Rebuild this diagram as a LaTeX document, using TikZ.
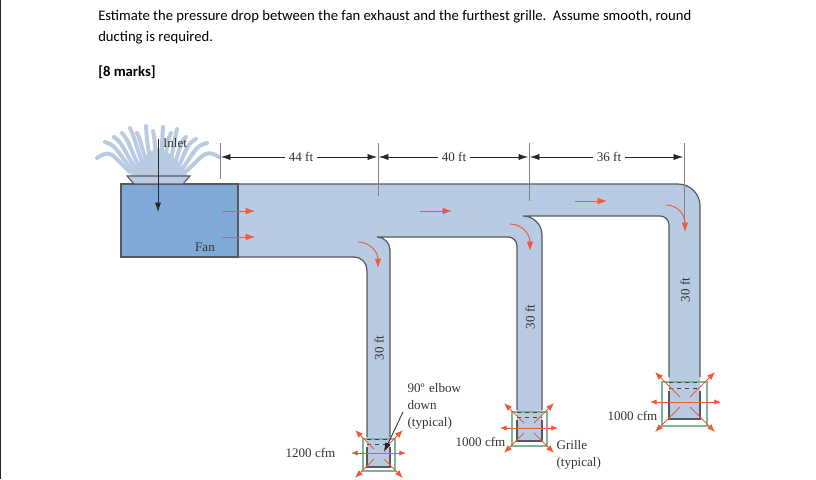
\documentclass[tikz,border=0pt]{standalone}
\usepackage{fontspec}
\setmainfont{Liberation Serif}
\newfontfamily\qfont{Carlito}
\usetikzlibrary{arrows.meta,positioning}
\definecolor{ductblue}{HTML}{B8CBE2}
\definecolor{fanblue}{HTML}{80A9D8}
\definecolor{flowred}{HTML}{EE5A36}
\definecolor{grillgreen}{HTML}{7FB594}
\definecolor{wallgray}{HTML}{55585E}
\begin{document}
\begin{tikzpicture}[x=0.75pt,y=-0.75pt,font=\fontsize{9.8}{12.75}\selectfont,
wall/.style={draw=wallgray,line width=0.9pt},
flow/.style={draw=flowred,line width=0.7pt,-{Latex[length=7pt,width=5pt]}},
vent/.style={draw=flowred,line width=0.6pt,-{Latex[length=6pt,width=4.5pt]}},
ventb/.style={vent,{Latex[length=5pt,width=4pt]}-{Latex[length=5pt,width=4pt]}},
dim/.style={draw=black!85,line width=0.4pt,-{Latex[length=7pt,width=4.5pt]}},
ext/.style={draw=gray,line width=0.5pt},
grill/.style={draw=grillgreen,line width=0.9pt},
wisp/.style={draw=ductblue,line width=3pt,line cap=round},
label/.style={inner sep=1pt,align=left,text=black!80},
qtext/.style={font=\qfont\fontsize{11}{14}\selectfont,anchor=west,inner sep=0pt}]
\useasboundingbox (0,0) rectangle (816,479);
% question
\node[qtext] (q1) at (98,17) {Estimate the pressure drop between the fan exhaust and the furthest grille.\ \ Assume smooth, round};
\node[qtext] (q2) at (98,38) {ducting is required.};
\node[qtext] (q3) at (98,72) {\bfseries [8 marks]};
% page edge
\draw[black!85,line width=1.2pt] (0.6,0) -- (0.6,479);
% inlet wisps
\fill[ductblue] (130,176) .. controls (140,160) and (150,150) .. (158,148) .. controls (168,150) and (178,160) .. (188,176) -- cycle;
\foreach \xa/\xc/\yc/\xb/\yb in {130/112/148/97/158,134/118/146/105/142,138/124/144/114/137,142/130/142/122/133,146/136/140/130/128,150/141/140/137/133,154/147/140/146/126,157/155/140/153/131,161/162/140/163/127,164/167/140/171/133,168/174/140/177/129,172/180/142/186/137,176/186/144/196/139,180/194/146/207/143,185/204/148/219/157}
  \draw[wisp] (\xa,172) .. controls (\xc,\yc+8) and (\xc,\yc) .. (\xb,\yb);
% duct
\fill[ductblue] (238,184) -- (678,184) arc[start angle=-90,end angle=0,radius=22] -- (700,419) -- (669,419) -- (669,225)
  arc[start angle=0,end angle=-90,radius=9] -- (523,216) arc[start angle=-90,end angle=0,radius=19] -- (542,441) -- (517,441) -- (517,246)
  arc[start angle=0,end angle=-90,radius=9] -- (377,237) arc[start angle=-90,end angle=0,radius=13] -- (390,467) -- (367,467) -- (367,270)
  arc[start angle=0,end angle=-90,radius=13] -- (238,257) -- cycle;
\draw[wall] (238,184) -- (678,184) arc[start angle=-90,end angle=0,radius=22] -- (700,377);
\draw[wall] (700,391) -- (700,419) -- (669,419) -- (669,391);
\draw[wall] (669,377) -- (669,225) arc[start angle=0,end angle=-90,radius=9] -- (523,216) arc[start angle=-90,end angle=0,radius=19] -- (542,410);
\draw[wall] (542,420) -- (542,441) -- (517,441) -- (517,420);
\draw[wall] (517,410) -- (517,246) arc[start angle=0,end angle=-90,radius=9] -- (377,237) arc[start angle=-90,end angle=0,radius=13] -- (390,437);
\draw[wall] (390,447) -- (390,467) -- (367,467) -- (367,447);
\draw[wall] (367,437) -- (367,270) arc[start angle=0,end angle=-90,radius=13] -- (238,257);
% fan
\node[draw=wallgray,fill=fanblue,line width=0.9pt,minimum width=87.75pt,minimum height=54.75pt,inner sep=0pt] (fan) at (179.5,220.5) {};
\node[label] (fanlabel) at (205,247) {Fan};
\draw[wallgray,fill=ductblue,line width=0.8pt] (127,176) -- (190,176) -- (183,184) -- (134,184) -- cycle;
\node[label] (inlet) at (175,143) {Inlet};
\coordinate (inlettop) at (158,139);
\coordinate (inletend) at (158,212);
\draw[dim,line width=0.6pt] (inlettop) -- (inletend);
% dimensions
\foreach \x/\ya/\yb in {220/143/179,378/143/196,529/143/201,684/143/225}
  \draw[ext] (\x,\ya) -- (\x,\yb);
\node[label,fill=white,inner sep=3pt] (d1) at (301,157) {44 ft};
\node[label,fill=white,inner sep=3pt] (d2) at (454,157) {40 ft};
\node[label,fill=white,inner sep=3pt] (d3) at (609,157) {36 ft};
\coordinate (da) at (221,157); \coordinate (db) at (377,157);
\coordinate (dc) at (379,157); \coordinate (dd) at (528,157);
\coordinate (de) at (530,157); \coordinate (df) at (683,157);
\draw[dim] (d1) -- (da); \draw[dim] (d1) -- (db);
\draw[dim] (d2) -- (dc); \draw[dim] (d2) -- (dd);
\draw[dim] (d3) -- (de); \draw[dim] (d3) -- (df);
\node[label,rotate=90] (l1) at (379,348) {30 ft};
\node[label,rotate=90] (l2) at (530,317) {30 ft};
\node[label,rotate=90] (l3) at (685,290) {30 ft};
% flow
\draw[flow] (222,211) -- (255,211);
\draw[flow] (222,237) -- (255,237);
\draw[flow] (420,211) -- (452,211);
\draw[flow] (575,201) -- (607,201);
\draw[flow] (358,242) .. controls (370,242) and (378,252) .. (378,268);
\draw[flow] (510,224) .. controls (522,224) and (530,234) .. (530,251);
\draw[flow] (666,205) .. controls (678,205) and (685,215) .. (685,232);
% grilles
\draw[grill] (363,439) rectangle (395,471);
\draw[grill] (512,412) rectangle (547,446);
\draw[grill] (662,382) rectangle (707,426);
\foreach \xa/\xb/\y in {367/390/439,367/390/444,517/542/412,517/542/417,669/700/382,669/700/388}
  \draw[black!75,dashed,line width=0.7pt] (\xa,\y) -- (\xb,\y);
\draw[ventb] (351,453) -- (406,453);
\draw[ventb] (500,428) -- (558,428);
\draw[ventb] (650,402) -- (721,402);
\coordinate (ga) at (379,454);
\coordinate (gb) at (529,428);
\coordinate (gc) at (685,402);
\foreach \n/\e in {a/24,b/25,c/30}{
  \draw[vent] ([shift={(-5,-5)}]g\n) -- ++({-\e+5},{-\e+5});
  \draw[vent] ([shift={(5,-5)}]g\n) -- ++({\e-5},{-\e+5});
  \draw[vent] ([shift={(-5,5)}]g\n) -- ++({-\e+5},{\e-5});
  \draw[vent] ([shift={(5,5)}]g\n) -- ++({\e-5},{\e-5});
}
% labels
\node[label,anchor=west] (cfma) at (284,453) {1200 cfm};
\node[label,anchor=west] (cfmb) at (454,442) {1000 cfm};
\node[label,anchor=west] (cfmc) at (606,416) {1000 cfm};
\node[label,anchor=north west,text width=60pt] (elbow) at (406,382) {90º elbow\\down\\(typical)};
\node[label,anchor=north west,text width=60pt] (grille) at (555,439) {Grille\\(typical)};
\coordinate (elbowtip) at (384,452);
\coordinate (elbowtail) at (403,412);
\draw[dim,line width=0.6pt] (elbowtail) -- (elbowtip);
\end{tikzpicture}
\end{document}
